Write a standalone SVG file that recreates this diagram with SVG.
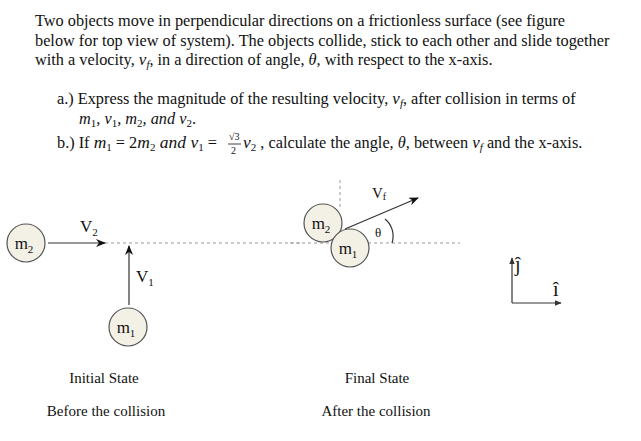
<svg xmlns="http://www.w3.org/2000/svg" width="641" height="441" viewBox="0 0 641 441">
<style>
text{font-family:"Liberation Serif","Times New Roman",serif;fill:#111}
.t{font-size:16.3px}
.m{font-style:italic}
.ball{fill:#f3f0e6;stroke:#555;stroke-width:1.2}
.bl{font-size:17px;text-anchor:middle}
.dot{stroke:#999;stroke-dasharray:3,3;stroke-width:1;fill:none}
.ln{stroke:#333;stroke-width:1.2;fill:none}
</style>
<defs>
<marker id="ar" viewBox="0 0 10 8" refX="9" refY="4" markerWidth="10" markerHeight="8" markerUnits="userSpaceOnUse" orient="auto"><path d="M0,0 L10,4 L0,8 L3,4 Z" fill="#111"/></marker>
<marker id="as" viewBox="0 0 10 8" refX="9" refY="4" markerWidth="7" markerHeight="6" markerUnits="userSpaceOnUse" orient="auto"><path d="M0,0 L10,4 L0,8 Z" fill="#333"/></marker>
</defs>
<g id="question">
<text class="t" x="35" y="26">Two objects move in perpendicular directions on a frictionless surface (see figure</text>
<text class="t" x="35" y="46">below for top view of system).  The objects collide, stick to each other and slide together</text>
<text class="t" x="35" y="65">with a velocity, <tspan class="m" font-size="17">v<tspan font-size="11" dy="3">f</tspan></tspan><tspan dy="-3">, in a direction of angle, </tspan><tspan class="m">θ</tspan>, with respect to the x-axis.</text>
<text class="t" x="57" y="104">a.)  Express the magnitude of the resulting velocity, <tspan class="m" font-size="17">v<tspan font-size="11" dy="3">f</tspan></tspan><tspan dy="-3">, after collision in terms of</tspan></text>
<text class="t m" x="79" y="124" font-size="17.5">m<tspan font-size="11" dy="3" font-style="normal">1</tspan><tspan dy="-3">, v</tspan><tspan font-size="11" dy="3" font-style="normal">1</tspan><tspan dy="-3">, m</tspan><tspan font-size="11" dy="3" font-style="normal">2</tspan><tspan dy="-3">, and v</tspan><tspan font-size="11" dy="3" font-style="normal">2</tspan><tspan dy="-3" font-style="normal">.</tspan></text>
<text class="t" x="57" y="148">b.)  If <tspan class="m" font-size="17.5">m</tspan><tspan font-size="11" dy="3">1</tspan><tspan dy="-3"> = 2</tspan><tspan class="m" font-size="17.5">m</tspan><tspan font-size="11" dy="3">2</tspan><tspan dy="-3" class="m" font-size="17.5"> and v</tspan><tspan font-size="11" dy="3">1</tspan><tspan dy="-3"> = </tspan></text>
<text x="229" y="140" font-size="10">√3</text>
<line x1="228" y1="144" x2="241" y2="144" stroke="#111" stroke-width="0.8"/>
<text x="231" y="154" font-size="10">2</text>
<text class="t" x="243" y="148"><tspan class="m" font-size="17.5">v</tspan><tspan font-size="11" dy="3">2</tspan><tspan dy="-3"> , calculate the angle, </tspan><tspan class="m">θ</tspan>, between <tspan class="m" font-size="17">v<tspan font-size="11" dy="3">f</tspan></tspan><tspan dy="-3"> and the x-axis.</tspan></text>
</g>
<g id="connectors">
<line class="dot" x1="105" y1="243" x2="300" y2="243"/>
<line class="dot" x1="290" y1="243" x2="460" y2="243"/>
<line class="dot" x1="340" y1="180" x2="340" y2="207"/>
<line class="ln" x1="48" y1="243" x2="105" y2="243" marker-end="url(#ar)"/>
<line class="ln" x1="129" y1="305" x2="129" y2="246" marker-end="url(#ar)"/>
<line class="ln" x1="345" y1="229" x2="418" y2="198" marker-end="url(#ar)"/>
<path class="ln" d="M385,219 A22,22 0 0 1 392,243" stroke-width="1"/>
<line class="ln" x1="512" y1="303" x2="512" y2="258" marker-end="url(#as)" stroke-width="1"/>
<line class="ln" x1="512" y1="303" x2="561" y2="303" marker-end="url(#as)" stroke-width="1"/>
</g>
<g id="m2-initial"><circle class="ball" cx="26" cy="243" r="19"/><text class="bl" x="24" y="249">m<tspan font-size="11" dy="4">2</tspan></text></g>
<g id="m1-initial"><circle class="ball" cx="128" cy="327" r="19"/><text class="bl" x="126" y="333">m<tspan font-size="11" dy="4">1</tspan></text></g>
<g id="labels-initial">
<text x="80" y="232" font-size="17">V<tspan font-size="11" dy="4">2</tspan></text>
<text x="136" y="282" font-size="17">V<tspan font-size="11" dy="4">1</tspan></text>
</g>
<g id="m2-final"><circle class="ball" cx="323" cy="223" r="19"/><text class="bl" x="321" y="229">m<tspan font-size="11" dy="4">2</tspan></text></g>
<g id="m1-final"><circle class="ball" cx="350" cy="248" r="19"/><text class="bl" x="348" y="254">m<tspan font-size="11" dy="4">1</tspan></text></g>
<g id="labels-final">
<text x="372" y="198" font-size="15">V<tspan font-size="10" dy="2">f</tspan></text>
<text x="375" y="237" font-size="13">θ</text>
</g>
<g id="axes-labels">
<text x="515" y="271" font-size="20">ĵ</text>
<text x="553" y="296" font-size="20">î</text>
</g>
<g id="captions">
<text x="104" y="383" text-anchor="middle" font-size="15">Initial State</text>
<text x="106" y="416" text-anchor="middle" font-size="15">Before the collision</text>
<text x="377" y="383" text-anchor="middle" font-size="15">Final State</text>
<text x="376" y="416" text-anchor="middle" font-size="15">After the collision</text>
</g>
</svg>
